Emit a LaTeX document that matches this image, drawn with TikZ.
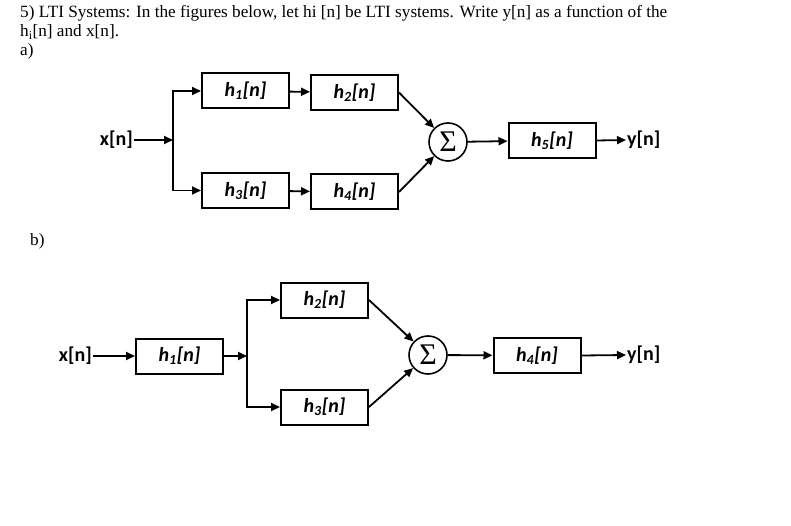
\documentclass[tikz,border=0pt]{standalone}
\usepackage{fontspec}
\setmainfont{Liberation Serif}
\newfontfamily\lab{Carlito}
\usetikzlibrary{arrows.meta}
\begin{document}
\begin{tikzpicture}[x=1pt,y=-1pt,
  blk/.style={draw,line width=2pt,minimum width=87pt,minimum height=35pt,inner sep=0pt,font=\lab\bfseries\itshape\fontsize{20}{20}\selectfont},
  sig/.style={draw,circle,line width=1.6pt,minimum size=38pt,inner sep=0pt,font=\fontsize{30}{30}\selectfont},
  lb/.style={font=\lab\bfseries\fontsize{20}{20}\selectfont,inner sep=1pt},
  ar/.style={-{Triangle[length=9pt,width=8pt]},line width=1.8pt},
  txt/.style={anchor=base west,inner sep=0pt,font=\fontsize{17.2}{17.2}\selectfont}]
\useasboundingbox (0,0) rectangle (791,526);
\node[txt] (t1) at (20,18) {5) LTI Systems: In the figures below, let hi [n] be LTI systems. Write y[n] as a function of the};
\node[txt] (t2) at (20,37) {h\textsubscript{i}[n] and x[n].};
\node[txt] (t3) at (20,56) {a)};
\node[txt] (t4) at (30,246) {b)};
% part a
\node[blk] (a1) at (245.5,91) {h\textsubscript{1}[n]};
\node[blk] (a2) at (354.5,92.5) {h\textsubscript{2}[n]};
\node[blk] (a3) at (245.5,190.5) {h\textsubscript{3}[n]};
\node[blk] (a4) at (354.5,192) {h\textsubscript{4}[n]};
\node[sig] (as) at (448,142) {Σ};
\node[blk] (a5) at (552,140.5) {h\textsubscript{5}[n]};
\node[lb,anchor=east] (ax) at (134,140) {x[n]};
\node[lb,anchor=west] (ay) at (626,140) {y[n]};
\coordinate (asp) at (173,140);
\draw[ar] (ax.east) -- (asp);
\draw[ar] (asp) |- (a1.west);
\draw[ar] (asp) |- (a3.west);
\draw[ar] (a1) -- (a2);
\draw[ar] (a3) -- (a4);
\draw[ar] (a2.east) -- (as);
\draw[ar] (a4.east) -- (as);
\draw[ar] (as) -- (a5);
\draw[ar] (a5.east) -- (ay.west);
% part b
\node[blk] (b1) at (179.5,356) {h\textsubscript{1}[n]};
\node[blk] (b2) at (324.5,300) {h\textsubscript{2}[n]};
\node[blk] (b3) at (324.5,407) {h\textsubscript{3}[n]};
\node[sig] (bs) at (428,355) {Σ};
\node[blk] (b4) at (537,355.5) {h\textsubscript{4}[n]};
\node[lb,anchor=east] (bx) at (93,356) {x[n]};
\node[lb,anchor=west] (by) at (626,355) {y[n]};
\coordinate (bsp) at (247,356);
\draw[ar] (bx.east) -- (b1.west);
\draw[ar] (b1.east) -- (bsp);
\draw[ar] (bsp) |- (b2.west);
\draw[ar] (bsp) |- (b3.west);
\draw[ar] (b2.east) -- (bs);
\draw[ar] (b3.east) -- (bs);
\draw[ar] (bs) -- (b4);
\draw[ar] (b4.east) -- (by.west);
\end{tikzpicture}
\end{document}
